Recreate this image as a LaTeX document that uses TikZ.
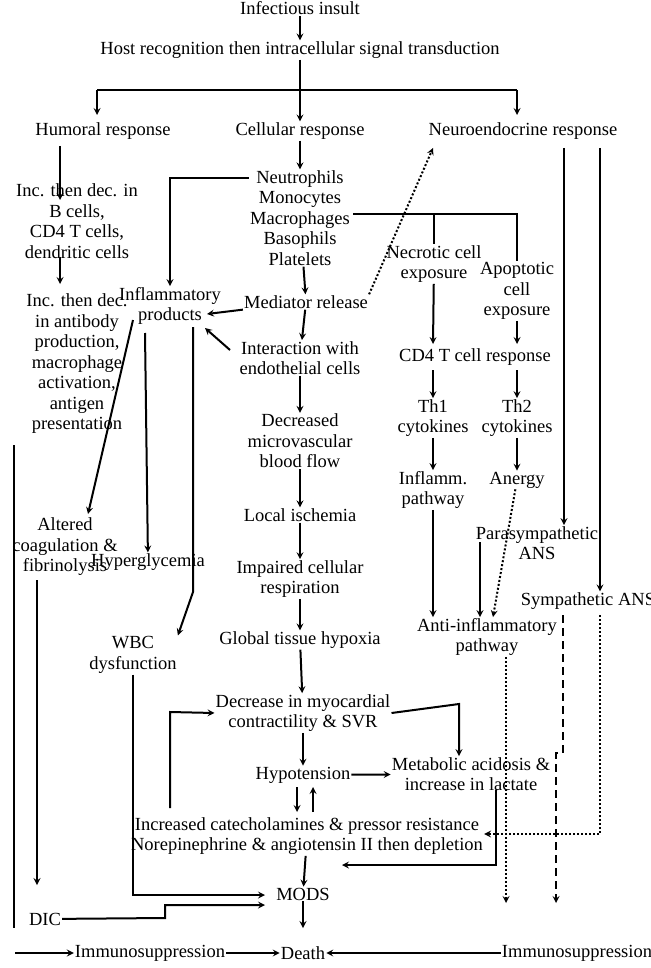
\documentclass[tikz,border=0pt]{standalone}
\usepackage{fontspec}
\setmainfont{Liberation Serif}
\usetikzlibrary{arrows}
\tikzstyle{txt} = [align=center, inner sep=1pt, font=\fontsize{18.5}{20.5}\selectfont]
\tikzstyle{arrow} = [line width=2pt,->,>=stealth]
\tikzstyle{line} = [line width=2pt]
\tikzstyle{dots} = [line width=2pt, dotted, ->, >=stealth]
\tikzstyle{dashes} = [line width=2pt, dash pattern=on 8pt off 5pt, ->, >=stealth]
\begin{document}
\begin{tikzpicture}[x=1pt,y=-1pt]
\useasboundingbox (0,0) rectangle (650,968);
\node (insult) [txt] at (300,8) {Infectious insult};
\node (host) [txt] at (300,50) {Host recognition then intracellular signal transduction};
\node (humoral) [txt] at (103,131) {Humoral response};
\node (cellular) [txt] at (300,131) {Cellular response};
\node (neuro) [txt] at (523,131) {Neuroendocrine response};
\node (incb) [txt] at (77,221) {Inc. then dec. in\\B cells,\\CD4 T cells,\\dendritic cells};
\node (incab) [txt] at (77,364) {Inc. then dec.\\in antibody\\production,\\macrophage\\activation,\\antigen\\presentation};
\node (cells) [txt] at (300,218) {Neutrophils\\Monocytes\\Macrophages\\Basophils\\Platelets};
\node (inflam) [txt] at (170,306) {Inflammatory\\products};
\node (necrotic) [txt] at (434,264) {Necrotic cell\\exposure};
\node (apoptotic) [txt] at (517,291) {Apoptotic\\cell\\exposure};
\node (mediator) [txt] at (306,302) {Mediator release};
\node (interact) [txt] at (300,358) {Interaction with\\endothelial cells};
\node (cdfour) [txt] at (475,357) {CD4 T cell response};
\node (thone) [txt] at (433,418) {Th1\\cytokines};
\node (thtwo) [txt] at (517,418) {Th2\\cytokines};
\node (decreased) [txt] at (300,441) {Decreased\\microvascular\\blood flow};
\node (inflpath) [txt] at (433,490) {Inflamm.\\pathway};
\node (anergy) [txt] at (517,480) {Anergy};
\node (ischemia) [txt] at (300,515) {Local ischemia};
\node (altered) [txt] at (65,547) {Altered\\coagulation \&\\fibrinolysis};
\node (para) [txt] at (537,543) {Parasympathetic\\ANS};
\node (hyper) [txt] at (148,562) {Hyperglycemia};
\node (impaired) [txt] at (300,579) {Impaired cellular\\respiration};
\node (symp) [txt] at (588,601) {Sympathetic ANS};
\node (antiinf) [txt] at (487,637) {Anti-inflammatory\\pathway};
\node (global) [txt] at (300,640) {Global tissue hypoxia};
\node (wbc) [txt] at (133,655) {WBC\\dysfunction};
\node (myo) [txt] at (303,713) {Decrease in myocardial\\contractility \& SVR};
\node (hypo) [txt] at (303,775) {Hypotension};
\node (metab) [txt] at (471,774) {Metabolic acidosis \&\\increase in lactate};
\node (catech) [txt] at (307,836) {Increased catecholamines \& pressor resistance\\Norepinephrine \& angiotensin II then depletion};
\node (mods) [txt] at (303,894) {MODS};
\node (dic) [txt] at (45,919) {DIC};
\node (immleft) [txt] at (150,953) {Immunosuppression};
\node (death) [txt] at (303,953) {Death};
\node (immright) [txt] at (577,953) {Immunosuppression};

\draw [arrow] (insult) -- (host);
\draw [line] (host) -- (300,90);
\draw [line] (97,90) -- (517,90);
\draw [arrow] (97,90) -- (97,115);
\draw [arrow] (300,90) -- (cellular);
\draw [arrow] (517,90) -- (517,115);
\draw [arrow] (60,146) -- (60,200);
\draw [arrow] (60,257) -- (60,284);
\draw [line] (14,445) -- (14,928);
\draw [arrow] (15,953) -- (immleft);
\draw [arrow] (immleft) -- (death);
\draw [arrow] (immright) -- (death);

% cellular branch
\draw [arrow] (cellular) -- (cells);
\draw [arrow] (cells.north west) ++(0,9) -| (inflam);
\draw [line] (353,214) -| (necrotic);
\draw [line] (433,214) -| (apoptotic);
\draw [arrow] (cells) -- (mediator);
\draw [arrow] (mediator) -- (207,314);
\draw [arrow] (230,350) -- (205,328);
\draw [dots] (mediator.north east) -- (433,148);
\draw [arrow] (mediator) -- (interact);
\draw [arrow] (interact) -- (decreased);
\draw [arrow] (decreased) -- (ischemia);
\draw [arrow] (ischemia) -- (impaired);
\draw [arrow] (impaired) -- (global);
\draw [arrow] (global) -- (myo);
\draw [arrow] (necrotic) -- (433,344);
\draw [arrow] (apoptotic) -- (517,344);
\draw [arrow] (433,370) -- (thone);
\draw [arrow] (517,370) -- (thtwo);
\draw [arrow] (thone) -- (inflpath);
\draw [arrow] (thtwo) -- (anergy);

% inflammatory products
\draw [arrow] (133,320) -- (88,514);
\draw [arrow] (145,333) -- (hyper);
\draw [arrow] (193,327) -- (193,592) -- (wbc.north east);
\draw [arrow] (37,580) -- (37,885);
\draw [arrow] (wbc) -- (133,895) -- (265,895);
\draw [arrow] (dic) -- (165,918) -- (165,905) -- (265,905);

% neuroendocrine
\draw [arrow] (564,148) -- (para.north -| 564,0);
\draw [arrow] (600,148) -- (symp.north -| 600,0);
\draw [arrow] (inflpath) -- (antiinf.north -| 433,0);
\draw [arrow] (480,542) -- (antiinf.north -| 480,0);
\draw [dots] (anergy) -- (antiinf.north -| 493,0);
\draw [dots] (antiinf.south -| 506,0) -- (506,903);
\draw [dashes] (563,615) -- (563,753) -- (556,753) -- (556,903);
\draw [dots] (600,615) -- (600,834) -- (catech.east |- 0,834);

% haemodynamics
\draw [arrow] (170,808) -- (170,712) -- (myo.west);
\draw [arrow] (myo.east) -- (459,704) -- (metab.north -| 459,0);
\draw [arrow] (myo) -- (hypo);
\draw [arrow] (hypo) -- (metab);
\draw [arrow] (297,787) -- (297,812);
\draw [arrow] (313,812) -- (313,787);
\draw [arrow] (496,790) -- (496,865) -- (342,865);
\draw [arrow] (catech) -- (mods);
\draw [arrow] (mods) -- (303,928);
\end{tikzpicture}
\end{document}
